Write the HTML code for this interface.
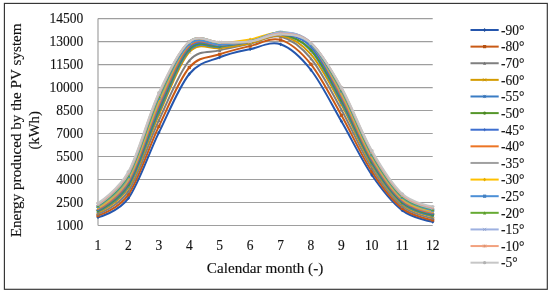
<!DOCTYPE html>
<html lang="en"><head><meta charset="utf-8"><title>Energy produced by the PV system</title>
<style>html,body{margin:0;padding:0;background:#fff;overflow:hidden}svg{display:block}text{font-family:"Liberation Serif", serif;fill:#111;stroke:#111;stroke-width:.14px}</style></head><body>
<svg width="550" height="293" viewBox="0 0 550 293">
<rect width="550" height="293" fill="#fff"/>
<rect x="4.4" y="3.4" width="542.9" height="285.9" fill="none" stroke="#333" stroke-width="1.15"/>
<path d="M98.00 18.60H432.70M98.00 41.58H432.70M98.00 64.57H432.70M98.00 87.55H432.70M98.00 110.53H432.70M98.00 133.52H432.70M98.00 156.50H432.70M98.00 179.48H432.70M98.00 202.47H432.70M98.00 225.45H432.70M98.00 18.60V225.45" stroke="#9e9e9e" stroke-width="1.15" fill="none"/>
<text transform="translate(83.3 22.90) scale(.925 1)" font-size="14.6" text-anchor="end">14500</text>
<text transform="translate(83.3 45.88) scale(.925 1)" font-size="14.6" text-anchor="end">13000</text>
<text transform="translate(83.3 68.87) scale(.925 1)" font-size="14.6" text-anchor="end">11500</text>
<text transform="translate(83.3 91.85) scale(.925 1)" font-size="14.6" text-anchor="end">10000</text>
<text transform="translate(83.3 114.83) scale(.925 1)" font-size="14.6" text-anchor="end">8500</text>
<text transform="translate(83.3 137.82) scale(.925 1)" font-size="14.6" text-anchor="end">7000</text>
<text transform="translate(83.3 160.80) scale(.925 1)" font-size="14.6" text-anchor="end">5500</text>
<text transform="translate(83.3 183.78) scale(.925 1)" font-size="14.6" text-anchor="end">4000</text>
<text transform="translate(83.3 206.77) scale(.925 1)" font-size="14.6" text-anchor="end">2500</text>
<text transform="translate(83.3 229.75) scale(.925 1)" font-size="14.6" text-anchor="end">1000</text>
<text transform="translate(98.00 249.9) scale(.925 1)" font-size="14.6" text-anchor="middle">1</text>
<text transform="translate(128.43 249.9) scale(.925 1)" font-size="14.6" text-anchor="middle">2</text>
<text transform="translate(158.85 249.9) scale(.925 1)" font-size="14.6" text-anchor="middle">3</text>
<text transform="translate(189.28 249.9) scale(.925 1)" font-size="14.6" text-anchor="middle">4</text>
<text transform="translate(219.71 249.9) scale(.925 1)" font-size="14.6" text-anchor="middle">5</text>
<text transform="translate(250.14 249.9) scale(.925 1)" font-size="14.6" text-anchor="middle">6</text>
<text transform="translate(280.56 249.9) scale(.925 1)" font-size="14.6" text-anchor="middle">7</text>
<text transform="translate(310.99 249.9) scale(.925 1)" font-size="14.6" text-anchor="middle">8</text>
<text transform="translate(341.42 249.9) scale(.925 1)" font-size="14.6" text-anchor="middle">9</text>
<text transform="translate(371.85 249.9) scale(.925 1)" font-size="14.6" text-anchor="middle">10</text>
<text transform="translate(402.27 249.9) scale(.925 1)" font-size="14.6" text-anchor="middle">11</text>
<text transform="translate(432.70 249.9) scale(.925 1)" font-size="14.6" text-anchor="middle">12</text>
<text x="265.05" y="272.7" font-size="14.2" text-anchor="middle" textLength="116.5" lengthAdjust="spacingAndGlyphs">Calendar month (-)</text>
<text transform="translate(20.9 130.35) rotate(-90)" font-size="14.2" text-anchor="middle" textLength="214" lengthAdjust="spacingAndGlyphs">Energy produced by the PV system</text>
<text transform="translate(39.3 130.35) rotate(-90)" font-size="14.2" text-anchor="middle" textLength="38.5" lengthAdjust="spacingAndGlyphs">(kWh)</text>
<path d="M98.00 217.20C98.00 217.20 118.28 212.30 128.43 198.20C138.57 184.10 148.71 153.30 158.85 132.60C169.00 111.90 179.14 86.55 189.28 74.00C199.42 61.45 209.57 61.43 219.71 57.30C229.85 53.17 239.99 51.37 250.14 49.20C260.28 47.03 270.42 40.83 280.56 44.30C290.71 47.77 300.85 57.17 310.99 70.00C321.13 82.83 331.28 103.80 341.42 121.30C351.56 138.80 361.70 160.15 371.85 175.00C381.99 189.85 392.13 202.60 402.27 210.40C412.42 218.20 432.70 221.80 432.70 221.80" stroke="#2556AD" stroke-width="2.00" fill="none" stroke-linecap="round" stroke-linejoin="round"/>
<g><path d="M98.00 215.30l1.60 1.90l-1.60 1.90l-1.60 -1.90z" fill="#2353A7"/><path d="M128.43 196.30l1.60 1.90l-1.60 1.90l-1.60 -1.90z" fill="#2353A7"/><path d="M158.85 130.70l1.60 1.90l-1.60 1.90l-1.60 -1.90z" fill="#2353A7"/><path d="M189.28 72.10l1.60 1.90l-1.60 1.90l-1.60 -1.90z" fill="#2353A7"/><path d="M219.71 55.40l1.60 1.90l-1.60 1.90l-1.60 -1.90z" fill="#2353A7"/><path d="M250.14 47.30l1.60 1.90l-1.60 1.90l-1.60 -1.90z" fill="#2353A7"/><path d="M280.56 42.40l1.60 1.90l-1.60 1.90l-1.60 -1.90z" fill="#2353A7"/><path d="M310.99 68.10l1.60 1.90l-1.60 1.90l-1.60 -1.90z" fill="#2353A7"/><path d="M341.42 119.40l1.60 1.90l-1.60 1.90l-1.60 -1.90z" fill="#2353A7"/><path d="M371.85 173.10l1.60 1.90l-1.60 1.90l-1.60 -1.90z" fill="#2353A7"/><path d="M402.27 208.50l1.60 1.90l-1.60 1.90l-1.60 -1.90z" fill="#2353A7"/><path d="M432.70 219.90l1.60 1.90l-1.60 1.90l-1.60 -1.90z" fill="#2353A7"/></g>
<path d="M98.00 215.55C98.00 215.55 118.28 209.50 128.43 194.63C138.57 179.77 148.71 147.57 158.85 126.38C169.00 105.19 179.14 79.51 189.28 67.50C199.42 55.49 209.57 57.87 219.71 54.30C229.85 50.73 239.99 48.50 250.14 46.10C260.28 43.70 270.42 36.87 280.56 39.90C290.71 42.93 300.85 51.73 310.99 64.30C321.13 76.87 331.28 97.42 341.42 115.30C351.56 133.19 361.70 156.09 371.85 171.60C381.99 187.11 392.13 200.29 402.27 208.36C412.42 216.42 432.70 220.01 432.70 220.01" stroke="#C95A15" stroke-width="2.00" fill="none" stroke-linecap="round" stroke-linejoin="round"/>
<g><rect x="96.40" y="213.95" width="3.20" height="3.20" fill="#C25714"/><rect x="126.83" y="193.03" width="3.20" height="3.20" fill="#C25714"/><rect x="157.25" y="124.78" width="3.20" height="3.20" fill="#C25714"/><rect x="187.68" y="65.90" width="3.20" height="3.20" fill="#C25714"/><rect x="218.11" y="52.70" width="3.20" height="3.20" fill="#C25714"/><rect x="248.54" y="44.50" width="3.20" height="3.20" fill="#C25714"/><rect x="278.96" y="38.30" width="3.20" height="3.20" fill="#C25714"/><rect x="309.39" y="62.70" width="3.20" height="3.20" fill="#C25714"/><rect x="339.82" y="113.70" width="3.20" height="3.20" fill="#C25714"/><rect x="370.25" y="170.00" width="3.20" height="3.20" fill="#C25714"/><rect x="400.67" y="206.76" width="3.20" height="3.20" fill="#C25714"/><rect x="431.10" y="218.41" width="3.20" height="3.20" fill="#C25714"/></g>
<path d="M98.00 213.91C98.00 213.91 118.28 206.72 128.43 191.14C138.57 175.56 148.71 142.20 158.85 120.45C169.00 98.69 179.14 72.27 189.28 60.60C199.42 48.93 209.57 53.18 219.71 50.40C229.85 47.62 239.99 46.22 250.14 43.90C260.28 41.58 270.42 34.05 280.56 36.50C290.71 38.95 300.85 46.39 310.99 58.60C321.13 70.81 331.28 91.45 341.42 109.73C351.56 128.01 361.70 152.19 371.85 168.28C381.99 184.38 392.13 198.00 402.27 206.32C412.42 214.65 432.70 218.22 432.70 218.22" stroke="#7F7F7F" stroke-width="2.00" fill="none" stroke-linecap="round" stroke-linejoin="round"/>
<g><path d="M98.00 212.31l1.60 3.20h-3.20z" fill="#7B7B7B"/><path d="M128.43 189.54l1.60 3.20h-3.20z" fill="#7B7B7B"/><path d="M158.85 118.85l1.60 3.20h-3.20z" fill="#7B7B7B"/><path d="M189.28 59.00l1.60 3.20h-3.20z" fill="#7B7B7B"/><path d="M219.71 48.80l1.60 3.20h-3.20z" fill="#7B7B7B"/><path d="M250.14 42.30l1.60 3.20h-3.20z" fill="#7B7B7B"/><path d="M280.56 34.90l1.60 3.20h-3.20z" fill="#7B7B7B"/><path d="M310.99 57.00l1.60 3.20h-3.20z" fill="#7B7B7B"/><path d="M341.42 108.13l1.60 3.20h-3.20z" fill="#7B7B7B"/><path d="M371.85 166.68l1.60 3.20h-3.20z" fill="#7B7B7B"/><path d="M402.27 204.72l1.60 3.20h-3.20z" fill="#7B7B7B"/><path d="M432.70 216.62l1.60 3.20h-3.20z" fill="#7B7B7B"/></g>
<path d="M98.00 212.26C98.00 212.26 118.28 203.96 128.43 187.72C138.57 171.48 148.71 137.45 158.85 114.82C169.00 92.20 179.14 63.10 189.28 52.00C199.42 40.90 209.57 49.65 219.71 48.20C229.85 46.75 239.99 45.40 250.14 43.30C260.28 41.20 270.42 33.75 280.56 35.60C290.71 37.45 300.85 42.90 310.99 54.40C321.13 65.90 331.28 86.17 341.42 104.62C351.56 123.06 361.70 148.46 371.85 165.07C381.99 181.69 392.13 195.75 402.27 204.31C412.42 212.87 432.70 216.44 432.70 216.44" stroke="#D49B00" stroke-width="2.00" fill="none" stroke-linecap="round" stroke-linejoin="round"/>
<g><path d="M96.40 210.66l3.20 3.20m0 -3.20l-3.20 3.20" stroke="#CD9600" stroke-width=".7" fill="none"/><path d="M126.83 186.12l3.20 3.20m0 -3.20l-3.20 3.20" stroke="#CD9600" stroke-width=".7" fill="none"/><path d="M157.25 113.22l3.20 3.20m0 -3.20l-3.20 3.20" stroke="#CD9600" stroke-width=".7" fill="none"/><path d="M187.68 50.40l3.20 3.20m0 -3.20l-3.20 3.20" stroke="#CD9600" stroke-width=".7" fill="none"/><path d="M218.11 46.60l3.20 3.20m0 -3.20l-3.20 3.20" stroke="#CD9600" stroke-width=".7" fill="none"/><path d="M248.54 41.70l3.20 3.20m0 -3.20l-3.20 3.20" stroke="#CD9600" stroke-width=".7" fill="none"/><path d="M278.96 34.00l3.20 3.20m0 -3.20l-3.20 3.20" stroke="#CD9600" stroke-width=".7" fill="none"/><path d="M309.39 52.80l3.20 3.20m0 -3.20l-3.20 3.20" stroke="#CD9600" stroke-width=".7" fill="none"/><path d="M339.82 103.02l3.20 3.20m0 -3.20l-3.20 3.20" stroke="#CD9600" stroke-width=".7" fill="none"/><path d="M370.25 163.47l3.20 3.20m0 -3.20l-3.20 3.20" stroke="#CD9600" stroke-width=".7" fill="none"/><path d="M400.67 202.71l3.20 3.20m0 -3.20l-3.20 3.20" stroke="#CD9600" stroke-width=".7" fill="none"/><path d="M431.10 214.84l3.20 3.20m0 -3.20l-3.20 3.20" stroke="#CD9600" stroke-width=".7" fill="none"/></g>
<path d="M98.00 211.44C98.00 211.44 118.28 202.60 128.43 186.05C138.57 169.50 148.71 134.75 158.85 112.14C169.00 89.53 179.14 61.29 189.28 50.40C199.42 39.51 209.57 48.25 219.71 46.80C229.85 45.35 239.99 43.78 250.14 41.70C260.28 39.62 270.42 32.82 280.56 34.30C290.71 35.78 300.85 39.28 310.99 50.60C321.13 61.92 331.28 83.42 341.42 102.24C351.56 121.06 361.70 146.66 371.85 163.51C381.99 180.35 392.13 194.64 402.27 203.31C412.42 211.98 432.70 215.54 432.70 215.54" stroke="#3A7CC4" stroke-width="2.00" fill="none" stroke-linecap="round" stroke-linejoin="round"/>
<g><path d="M96.40 209.84l3.20 3.20m0 -3.20l-3.20 3.20M98.00 209.84v3.20" stroke="#3878BE" stroke-width=".7" fill="none"/><path d="M126.83 184.45l3.20 3.20m0 -3.20l-3.20 3.20M128.43 184.45v3.20" stroke="#3878BE" stroke-width=".7" fill="none"/><path d="M157.25 110.54l3.20 3.20m0 -3.20l-3.20 3.20M158.85 110.54v3.20" stroke="#3878BE" stroke-width=".7" fill="none"/><path d="M187.68 48.80l3.20 3.20m0 -3.20l-3.20 3.20M189.28 48.80v3.20" stroke="#3878BE" stroke-width=".7" fill="none"/><path d="M218.11 45.20l3.20 3.20m0 -3.20l-3.20 3.20M219.71 45.20v3.20" stroke="#3878BE" stroke-width=".7" fill="none"/><path d="M248.54 40.10l3.20 3.20m0 -3.20l-3.20 3.20M250.14 40.10v3.20" stroke="#3878BE" stroke-width=".7" fill="none"/><path d="M278.96 32.70l3.20 3.20m0 -3.20l-3.20 3.20M280.56 32.70v3.20" stroke="#3878BE" stroke-width=".7" fill="none"/><path d="M309.39 49.00l3.20 3.20m0 -3.20l-3.20 3.20M310.99 49.00v3.20" stroke="#3878BE" stroke-width=".7" fill="none"/><path d="M339.82 100.64l3.20 3.20m0 -3.20l-3.20 3.20M341.42 100.64v3.20" stroke="#3878BE" stroke-width=".7" fill="none"/><path d="M370.25 161.91l3.20 3.20m0 -3.20l-3.20 3.20M371.85 161.91v3.20" stroke="#3878BE" stroke-width=".7" fill="none"/><path d="M400.67 201.71l3.20 3.20m0 -3.20l-3.20 3.20M402.27 201.71v3.20" stroke="#3878BE" stroke-width=".7" fill="none"/><path d="M431.10 213.94l3.20 3.20m0 -3.20l-3.20 3.20M432.70 213.94v3.20" stroke="#3878BE" stroke-width=".7" fill="none"/></g>
<path d="M98.00 210.61C98.00 210.61 118.28 201.24 128.43 184.40C138.57 167.56 148.71 132.13 158.85 109.55C169.00 86.97 179.14 59.48 189.28 48.90C199.42 38.32 209.57 47.32 219.71 46.10C229.85 44.88 239.99 43.58 250.14 41.60C260.28 39.62 270.42 32.83 280.56 34.20C290.71 35.57 300.85 38.84 310.99 49.80C321.13 60.76 331.28 81.29 341.42 99.99C351.56 118.68 361.70 144.92 371.85 161.97C381.99 179.03 392.13 193.53 402.27 202.31C412.42 211.09 432.70 214.65 432.70 214.65" stroke="#55962A" stroke-width="2.00" fill="none" stroke-linecap="round" stroke-linejoin="round"/>
<g><circle cx="98.00" cy="210.61" r="1.60" fill="#529128"/><circle cx="128.43" cy="184.40" r="1.60" fill="#529128"/><circle cx="158.85" cy="109.55" r="1.60" fill="#529128"/><circle cx="189.28" cy="48.90" r="1.60" fill="#529128"/><circle cx="219.71" cy="46.10" r="1.60" fill="#529128"/><circle cx="250.14" cy="41.60" r="1.60" fill="#529128"/><circle cx="280.56" cy="34.20" r="1.60" fill="#529128"/><circle cx="310.99" cy="49.80" r="1.60" fill="#529128"/><circle cx="341.42" cy="99.99" r="1.60" fill="#529128"/><circle cx="371.85" cy="161.97" r="1.60" fill="#529128"/><circle cx="402.27" cy="202.31" r="1.60" fill="#529128"/><circle cx="432.70" cy="214.65" r="1.60" fill="#529128"/></g>
<path d="M98.00 209.79C98.00 209.79 118.28 199.90 128.43 182.78C138.57 165.66 148.71 129.62 158.85 107.06C169.00 84.50 179.14 57.68 189.28 47.40C199.42 37.12 209.57 46.37 219.71 45.40C229.85 44.43 239.99 43.47 250.14 41.60C260.28 39.73 270.42 33.33 280.56 34.20C290.71 35.07 300.85 36.19 310.99 46.80C321.13 57.41 331.28 78.92 341.42 97.87C351.56 116.82 361.70 143.23 371.85 160.48C381.99 177.72 392.13 192.44 402.27 201.32C412.42 210.20 432.70 213.75 432.70 213.75" stroke="#3E6FD0" stroke-width="2.00" fill="none" stroke-linecap="round" stroke-linejoin="round"/>
<g><path d="M96.40 209.79h3.20M98.00 208.19v3.20" stroke="#3C6BC9" stroke-width=".7" fill="none"/><path d="M126.83 182.78h3.20M128.43 181.18v3.20" stroke="#3C6BC9" stroke-width=".7" fill="none"/><path d="M157.25 107.06h3.20M158.85 105.46v3.20" stroke="#3C6BC9" stroke-width=".7" fill="none"/><path d="M187.68 47.40h3.20M189.28 45.80v3.20" stroke="#3C6BC9" stroke-width=".7" fill="none"/><path d="M218.11 45.40h3.20M219.71 43.80v3.20" stroke="#3C6BC9" stroke-width=".7" fill="none"/><path d="M248.54 41.60h3.20M250.14 40.00v3.20" stroke="#3C6BC9" stroke-width=".7" fill="none"/><path d="M278.96 34.20h3.20M280.56 32.60v3.20" stroke="#3C6BC9" stroke-width=".7" fill="none"/><path d="M309.39 46.80h3.20M310.99 45.20v3.20" stroke="#3C6BC9" stroke-width=".7" fill="none"/><path d="M339.82 97.87h3.20M341.42 96.27v3.20" stroke="#3C6BC9" stroke-width=".7" fill="none"/><path d="M370.25 160.48h3.20M371.85 158.88v3.20" stroke="#3C6BC9" stroke-width=".7" fill="none"/><path d="M400.67 201.32h3.20M402.27 199.72v3.20" stroke="#3C6BC9" stroke-width=".7" fill="none"/><path d="M431.10 213.75h3.20M432.70 212.15v3.20" stroke="#3C6BC9" stroke-width=".7" fill="none"/></g>
<path d="M98.00 208.96C98.00 208.96 118.28 198.57 128.43 181.19C138.57 163.81 148.71 127.24 158.85 104.67C169.00 82.11 179.14 55.78 189.28 45.80C199.42 35.82 209.57 45.50 219.71 44.80C229.85 44.10 239.99 43.37 250.14 41.60C260.28 39.83 270.42 33.80 280.56 34.20C290.71 34.60 300.85 33.72 310.99 44.00C321.13 54.28 331.28 76.72 341.42 95.89C351.56 115.06 361.70 141.61 371.85 159.01C381.99 176.42 392.13 191.36 402.27 200.34C412.42 209.31 432.70 212.86 432.70 212.86" stroke="#EC7424" stroke-width="2.00" fill="none" stroke-linecap="round" stroke-linejoin="round"/>
<path d="M98.00 208.14C98.00 208.14 118.28 197.25 128.43 179.63C138.57 162.01 148.71 124.99 158.85 102.41C169.00 79.82 179.14 53.75 189.28 44.10C199.42 34.45 209.57 44.92 219.71 44.50C229.85 44.08 239.99 43.32 250.14 41.60C260.28 39.88 270.42 33.80 280.56 34.20C290.71 34.60 300.85 34.02 310.99 44.00C321.13 53.98 331.28 75.14 341.42 94.07C351.56 113.00 361.70 140.04 371.85 157.59C381.99 175.14 392.13 190.30 402.27 199.36C412.42 208.42 432.70 211.96 432.70 211.96" stroke="#A0A0A0" stroke-width="2.00" fill="none" stroke-linecap="round" stroke-linejoin="round"/>
<path d="M98.00 207.32C98.00 207.32 118.28 195.95 128.43 178.11C138.57 160.27 148.71 122.60 158.85 100.27C169.00 77.93 179.14 53.61 189.28 44.10C199.42 34.59 209.57 43.97 219.71 43.20C229.85 42.43 239.99 41.28 250.14 39.50C260.28 37.72 270.42 31.75 280.56 32.50C290.71 33.25 300.85 34.02 310.99 44.00C321.13 53.98 331.28 73.70 341.42 92.40C351.56 111.10 361.70 138.55 371.85 156.22C381.99 173.88 392.13 189.25 402.27 198.39C412.42 207.53 432.70 211.07 432.70 211.07" stroke="#FFC000" stroke-width="2.00" fill="none" stroke-linecap="round" stroke-linejoin="round"/>
<g><path d="M98.00 205.42l1.60 1.90l-1.60 1.90l-1.60 -1.90z" fill="#F7BA00"/><path d="M128.43 176.21l1.60 1.90l-1.60 1.90l-1.60 -1.90z" fill="#F7BA00"/><path d="M158.85 98.37l1.60 1.90l-1.60 1.90l-1.60 -1.90z" fill="#F7BA00"/><path d="M189.28 42.20l1.60 1.90l-1.60 1.90l-1.60 -1.90z" fill="#F7BA00"/><path d="M219.71 41.30l1.60 1.90l-1.60 1.90l-1.60 -1.90z" fill="#F7BA00"/><path d="M250.14 37.60l1.60 1.90l-1.60 1.90l-1.60 -1.90z" fill="#F7BA00"/><path d="M280.56 30.60l1.60 1.90l-1.60 1.90l-1.60 -1.90z" fill="#F7BA00"/><path d="M310.99 42.10l1.60 1.90l-1.60 1.90l-1.60 -1.90z" fill="#F7BA00"/><path d="M341.42 90.50l1.60 1.90l-1.60 1.90l-1.60 -1.90z" fill="#F7BA00"/><path d="M371.85 154.32l1.60 1.90l-1.60 1.90l-1.60 -1.90z" fill="#F7BA00"/><path d="M402.27 196.49l1.60 1.90l-1.60 1.90l-1.60 -1.90z" fill="#F7BA00"/><path d="M432.70 209.17l1.60 1.90l-1.60 1.90l-1.60 -1.90z" fill="#F7BA00"/></g>
<path d="M98.00 206.49C98.00 206.49 118.28 194.67 128.43 176.64C138.57 158.60 148.71 120.36 158.85 98.27C169.00 76.18 179.14 53.08 189.28 44.10C199.42 35.12 209.57 44.85 219.71 44.40C229.85 43.95 239.99 43.40 250.14 41.40C260.28 39.40 270.42 31.87 280.56 32.40C290.71 32.93 300.85 34.85 310.99 44.60C321.13 54.35 331.28 72.53 341.42 90.91C351.56 109.29 361.70 137.14 371.85 154.90C381.99 172.65 392.13 188.22 402.27 197.43C412.42 206.65 432.70 210.18 432.70 210.18" stroke="#4C8FD6" stroke-width="2.00" fill="none" stroke-linecap="round" stroke-linejoin="round"/>
<g><rect x="96.40" y="204.89" width="3.20" height="3.20" fill="#498ACF"/><rect x="126.83" y="175.04" width="3.20" height="3.20" fill="#498ACF"/><rect x="157.25" y="96.67" width="3.20" height="3.20" fill="#498ACF"/><rect x="187.68" y="42.50" width="3.20" height="3.20" fill="#498ACF"/><rect x="218.11" y="42.80" width="3.20" height="3.20" fill="#498ACF"/><rect x="248.54" y="39.80" width="3.20" height="3.20" fill="#498ACF"/><rect x="278.96" y="30.80" width="3.20" height="3.20" fill="#498ACF"/><rect x="309.39" y="43.00" width="3.20" height="3.20" fill="#498ACF"/><rect x="339.82" y="89.31" width="3.20" height="3.20" fill="#498ACF"/><rect x="370.25" y="153.30" width="3.20" height="3.20" fill="#498ACF"/><rect x="400.67" y="195.83" width="3.20" height="3.20" fill="#498ACF"/><rect x="431.10" y="208.58" width="3.20" height="3.20" fill="#498ACF"/></g>
<path d="M98.00 205.67C98.00 205.67 118.28 193.42 128.43 175.22C138.57 157.01 148.71 118.68 158.85 96.45C169.00 74.21 179.14 50.81 189.28 41.80C199.42 32.79 209.57 42.45 219.71 42.40C229.85 42.35 239.99 43.18 250.14 41.50C260.28 39.82 270.42 32.00 280.56 32.30C290.71 32.60 300.85 33.75 310.99 43.30C321.13 52.85 331.28 71.22 341.42 89.61C351.56 108.00 361.70 135.83 371.85 153.64C381.99 171.46 392.13 187.21 402.27 196.49C412.42 205.76 432.70 209.28 432.70 209.28" stroke="#66AA33" stroke-width="2.00" fill="none" stroke-linecap="round" stroke-linejoin="round"/>
<g><path d="M98.00 204.07l1.60 3.20h-3.20z" fill="#62A431"/><path d="M128.43 173.62l1.60 3.20h-3.20z" fill="#62A431"/><path d="M158.85 94.85l1.60 3.20h-3.20z" fill="#62A431"/><path d="M189.28 40.20l1.60 3.20h-3.20z" fill="#62A431"/><path d="M219.71 40.80l1.60 3.20h-3.20z" fill="#62A431"/><path d="M250.14 39.90l1.60 3.20h-3.20z" fill="#62A431"/><path d="M280.56 30.70l1.60 3.20h-3.20z" fill="#62A431"/><path d="M310.99 41.70l1.60 3.20h-3.20z" fill="#62A431"/><path d="M341.42 88.01l1.60 3.20h-3.20z" fill="#62A431"/><path d="M371.85 152.04l1.60 3.20h-3.20z" fill="#62A431"/><path d="M402.27 194.89l1.60 3.20h-3.20z" fill="#62A431"/><path d="M432.70 207.68l1.60 3.20h-3.20z" fill="#62A431"/></g>
<path d="M98.00 204.85C98.00 204.85 118.28 192.21 128.43 173.87C138.57 155.53 148.71 116.84 158.85 94.83C169.00 72.81 179.14 50.54 189.28 41.80C199.42 33.06 209.57 42.43 219.71 42.40C229.85 42.37 239.99 43.30 250.14 41.60C260.28 39.90 270.42 32.02 280.56 32.20C290.71 32.38 300.85 33.31 310.99 42.70C321.13 52.09 331.28 70.24 341.42 88.53C351.56 106.83 361.70 134.63 371.85 152.47C381.99 170.31 392.13 186.24 402.27 195.55C412.42 204.87 432.70 208.39 432.70 208.39" stroke="#9DB0E0" stroke-width="2.00" fill="none" stroke-linecap="round" stroke-linejoin="round"/>
<g><path d="M96.40 203.25l3.20 3.20m0 -3.20l-3.20 3.20" stroke="#98AAD9" stroke-width=".7" fill="none"/><path d="M126.83 172.27l3.20 3.20m0 -3.20l-3.20 3.20" stroke="#98AAD9" stroke-width=".7" fill="none"/><path d="M157.25 93.23l3.20 3.20m0 -3.20l-3.20 3.20" stroke="#98AAD9" stroke-width=".7" fill="none"/><path d="M187.68 40.20l3.20 3.20m0 -3.20l-3.20 3.20" stroke="#98AAD9" stroke-width=".7" fill="none"/><path d="M218.11 40.80l3.20 3.20m0 -3.20l-3.20 3.20" stroke="#98AAD9" stroke-width=".7" fill="none"/><path d="M248.54 40.00l3.20 3.20m0 -3.20l-3.20 3.20" stroke="#98AAD9" stroke-width=".7" fill="none"/><path d="M278.96 30.60l3.20 3.20m0 -3.20l-3.20 3.20" stroke="#98AAD9" stroke-width=".7" fill="none"/><path d="M309.39 41.10l3.20 3.20m0 -3.20l-3.20 3.20" stroke="#98AAD9" stroke-width=".7" fill="none"/><path d="M339.82 86.93l3.20 3.20m0 -3.20l-3.20 3.20" stroke="#98AAD9" stroke-width=".7" fill="none"/><path d="M370.25 150.87l3.20 3.20m0 -3.20l-3.20 3.20" stroke="#98AAD9" stroke-width=".7" fill="none"/><path d="M400.67 193.95l3.20 3.20m0 -3.20l-3.20 3.20" stroke="#98AAD9" stroke-width=".7" fill="none"/><path d="M431.10 206.79l3.20 3.20m0 -3.20l-3.20 3.20" stroke="#98AAD9" stroke-width=".7" fill="none"/></g>
<path d="M98.00 204.02C98.00 204.02 118.28 191.05 128.43 172.62C138.57 154.20 148.71 115.28 158.85 93.47C169.00 71.67 179.14 50.31 189.28 41.80C199.42 33.29 209.57 42.43 219.71 42.40C229.85 42.37 239.99 43.03 250.14 41.60C260.28 40.17 270.42 33.57 280.56 33.80C290.71 34.03 300.85 34.01 310.99 43.00C321.13 51.99 331.28 69.65 341.42 87.72C351.56 105.79 361.70 133.59 371.85 151.41C381.99 169.24 392.13 185.30 402.27 194.65C412.42 203.99 432.70 207.49 432.70 207.49" stroke="#F2A17E" stroke-width="2.00" fill="none" stroke-linecap="round" stroke-linejoin="round"/>
<g><path d="M96.40 202.42l3.20 3.20m0 -3.20l-3.20 3.20M98.00 202.42v3.20" stroke="#EA9C7A" stroke-width=".7" fill="none"/><path d="M126.83 171.02l3.20 3.20m0 -3.20l-3.20 3.20M128.43 171.02v3.20" stroke="#EA9C7A" stroke-width=".7" fill="none"/><path d="M157.25 91.87l3.20 3.20m0 -3.20l-3.20 3.20M158.85 91.87v3.20" stroke="#EA9C7A" stroke-width=".7" fill="none"/><path d="M187.68 40.20l3.20 3.20m0 -3.20l-3.20 3.20M189.28 40.20v3.20" stroke="#EA9C7A" stroke-width=".7" fill="none"/><path d="M218.11 40.80l3.20 3.20m0 -3.20l-3.20 3.20M219.71 40.80v3.20" stroke="#EA9C7A" stroke-width=".7" fill="none"/><path d="M248.54 40.00l3.20 3.20m0 -3.20l-3.20 3.20M250.14 40.00v3.20" stroke="#EA9C7A" stroke-width=".7" fill="none"/><path d="M278.96 32.20l3.20 3.20m0 -3.20l-3.20 3.20M280.56 32.20v3.20" stroke="#EA9C7A" stroke-width=".7" fill="none"/><path d="M309.39 41.40l3.20 3.20m0 -3.20l-3.20 3.20M310.99 41.40v3.20" stroke="#EA9C7A" stroke-width=".7" fill="none"/><path d="M339.82 86.12l3.20 3.20m0 -3.20l-3.20 3.20M341.42 86.12v3.20" stroke="#EA9C7A" stroke-width=".7" fill="none"/><path d="M370.25 149.81l3.20 3.20m0 -3.20l-3.20 3.20M371.85 149.81v3.20" stroke="#EA9C7A" stroke-width=".7" fill="none"/><path d="M400.67 193.05l3.20 3.20m0 -3.20l-3.20 3.20M402.27 193.05v3.20" stroke="#EA9C7A" stroke-width=".7" fill="none"/><path d="M431.10 205.89l3.20 3.20m0 -3.20l-3.20 3.20M432.70 205.89v3.20" stroke="#EA9C7A" stroke-width=".7" fill="none"/></g>
<path d="M98.00 203.20C98.00 203.20 118.28 190.03 128.43 171.60C138.57 153.17 148.71 114.23 158.85 92.60C169.00 70.97 179.14 50.18 189.28 41.80C199.42 33.42 209.57 42.33 219.71 42.30C229.85 42.27 239.99 42.95 250.14 41.60C260.28 40.25 270.42 33.92 280.56 34.20C290.71 34.48 300.85 34.45 310.99 43.30C321.13 52.15 331.28 69.42 341.42 87.30C351.56 105.18 361.70 132.85 371.85 150.60C381.99 168.35 392.13 184.47 402.27 193.80C412.42 203.13 432.70 206.60 432.70 206.60" stroke="#C6C6C6" stroke-width="2.00" fill="none" stroke-linecap="round" stroke-linejoin="round"/>
<g><circle cx="98.00" cy="203.20" r="1.60" fill="#C0C0C0"/><circle cx="128.43" cy="171.60" r="1.60" fill="#C0C0C0"/><circle cx="158.85" cy="92.60" r="1.60" fill="#C0C0C0"/><circle cx="189.28" cy="41.80" r="1.60" fill="#C0C0C0"/><circle cx="219.71" cy="42.30" r="1.60" fill="#C0C0C0"/><circle cx="250.14" cy="41.60" r="1.60" fill="#C0C0C0"/><circle cx="280.56" cy="34.20" r="1.60" fill="#C0C0C0"/><circle cx="310.99" cy="43.30" r="1.60" fill="#C0C0C0"/><circle cx="341.42" cy="87.30" r="1.60" fill="#C0C0C0"/><circle cx="371.85" cy="150.60" r="1.60" fill="#C0C0C0"/><circle cx="402.27" cy="193.80" r="1.60" fill="#C0C0C0"/><circle cx="432.70" cy="206.60" r="1.60" fill="#C0C0C0"/></g>
<path d="M470.5 30.00H498.7" stroke="#2556AD" stroke-width="2.00" fill="none"/>
<path d="M484.60 28.10l1.60 1.90l-1.60 1.90l-1.60 -1.90z" fill="#214D9B"/>
<text transform="translate(501.0 34.80) scale(.925 1)" font-size="14.6">-90°</text>
<path d="M470.5 46.62H498.7" stroke="#C95A15" stroke-width="2.00" fill="none"/>
<rect x="483.00" y="45.02" width="3.20" height="3.20" fill="#B45112"/>
<text transform="translate(501.0 51.42) scale(.925 1)" font-size="14.6">-80°</text>
<path d="M470.5 63.24H498.7" stroke="#7F7F7F" stroke-width="2.00" fill="none"/>
<path d="M484.60 61.64l1.60 3.20h-3.20z" fill="#727272"/>
<text transform="translate(501.0 68.04) scale(.925 1)" font-size="14.6">-70°</text>
<path d="M470.5 79.86H498.7" stroke="#D49B00" stroke-width="2.00" fill="none"/>
<path d="M483.00 78.26l3.20 3.20m0 -3.20l-3.20 3.20" stroke="#BE8B00" stroke-width=".7" fill="none"/>
<text transform="translate(501.0 84.66) scale(.925 1)" font-size="14.6">-60°</text>
<path d="M470.5 96.48H498.7" stroke="#3A7CC4" stroke-width="2.00" fill="none"/>
<path d="M483.00 94.88l3.20 3.20m0 -3.20l-3.20 3.20M484.60 94.88v3.20" stroke="#346FB0" stroke-width=".7" fill="none"/>
<text transform="translate(501.0 101.28) scale(.925 1)" font-size="14.6">-55°</text>
<path d="M470.5 113.10H498.7" stroke="#55962A" stroke-width="2.00" fill="none"/>
<circle cx="484.60" cy="113.10" r="1.60" fill="#4C8725"/>
<text transform="translate(501.0 117.90) scale(.925 1)" font-size="14.6">-50°</text>
<path d="M470.5 129.72H498.7" stroke="#3E6FD0" stroke-width="2.00" fill="none"/>
<path d="M483.00 129.72h3.20M484.60 128.12v3.20" stroke="#3763BB" stroke-width=".7" fill="none"/>
<text transform="translate(501.0 134.52) scale(.925 1)" font-size="14.6">-45°</text>
<path d="M470.5 146.34H498.7" stroke="#EC7424" stroke-width="2.00" fill="none"/>

<text transform="translate(501.0 151.14) scale(.925 1)" font-size="14.6">-40°</text>
<path d="M470.5 162.96H498.7" stroke="#A0A0A0" stroke-width="2.00" fill="none"/>

<text transform="translate(501.0 167.76) scale(.925 1)" font-size="14.6">-35°</text>
<path d="M470.5 179.58H498.7" stroke="#FFC000" stroke-width="2.00" fill="none"/>
<path d="M484.60 177.68l1.60 1.90l-1.60 1.90l-1.60 -1.90z" fill="#E5AC00"/>
<text transform="translate(501.0 184.38) scale(.925 1)" font-size="14.6">-30°</text>
<path d="M470.5 196.20H498.7" stroke="#4C8FD6" stroke-width="2.00" fill="none"/>
<rect x="483.00" y="194.60" width="3.20" height="3.20" fill="#4480C0"/>
<text transform="translate(501.0 201.00) scale(.925 1)" font-size="14.6">-25°</text>
<path d="M470.5 212.82H498.7" stroke="#66AA33" stroke-width="2.00" fill="none"/>
<path d="M484.60 211.22l1.60 3.20h-3.20z" fill="#5B992D"/>
<text transform="translate(501.0 217.62) scale(.925 1)" font-size="14.6">-20°</text>
<path d="M470.5 229.44H498.7" stroke="#9DB0E0" stroke-width="2.00" fill="none"/>
<path d="M483.00 227.84l3.20 3.20m0 -3.20l-3.20 3.20" stroke="#8D9EC9" stroke-width=".7" fill="none"/>
<text transform="translate(501.0 234.24) scale(.925 1)" font-size="14.6">-15°</text>
<path d="M470.5 246.06H498.7" stroke="#F2A17E" stroke-width="2.00" fill="none"/>
<path d="M483.00 244.46l3.20 3.20m0 -3.20l-3.20 3.20M484.60 244.46v3.20" stroke="#D99071" stroke-width=".7" fill="none"/>
<text transform="translate(501.0 250.86) scale(.925 1)" font-size="14.6">-10°</text>
<path d="M470.5 262.68H498.7" stroke="#C6C6C6" stroke-width="2.00" fill="none"/>
<circle cx="484.60" cy="262.68" r="1.60" fill="#B2B2B2"/>
<text transform="translate(501.0 267.48) scale(.925 1)" font-size="14.6">-5°</text>
</svg></body></html>
